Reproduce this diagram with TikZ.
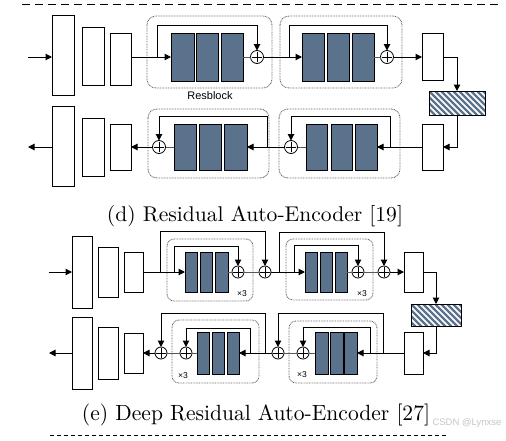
\documentclass[tikz,border=0pt]{standalone}
\usepackage{fontspec}
\newfontfamily\sansf{Liberation Sans}
\usetikzlibrary{arrows.meta}
\definecolor{slate}{RGB}{90,114,140}
\newcommand\mkbox[6]{\node[#6, minimum width={(#4)-(#2)}, minimum height={(#5)-(#3)}] (#1) at ({((#2)+(#4))/2},{((#3)+(#5))/2}) {};}
\newcommand\mkhatch[1]{%
  \begin{scope}
    \clip (#1.north west) rectangle (#1.south east);
    \foreach \i in {-30,-24,...,66} \draw[slate, line width=2.4pt] ([xshift=\i pt]#1.north west) -- ++(30,30);
  \end{scope}
  \draw[line width=1pt] (#1.north west) rectangle (#1.south east);}
\begin{document}
\begin{tikzpicture}[x=1pt,y=-1pt,
  bx/.style={draw, line width=1pt, fill=white, inner sep=0pt, outer sep=0pt},
  bl/.style={draw, line width=1pt, fill=slate, inner sep=0pt, outer sep=0pt},
  res/.style={draw=black!60, line width=0.9pt, dash pattern=on 0.8pt off 0.8pt, rounded corners=#1},
  res/.default=9pt,
  pl/.style={circle, draw, line width=0.8pt, fill=white, minimum size=#1, inner sep=0pt, outer sep=0pt,
    path picture={\draw[line width=0.8pt] ([xshift=1.4pt]path picture bounding box.west) -- ([xshift=-1.4pt]path picture bounding box.east)
      ([yshift=-1.4pt]path picture bounding box.north) -- ([yshift=1.4pt]path picture bounding box.south);}},
  pl/.default=13pt,
  ar/.style={line width=1pt, -{Triangle[length=6.5pt,width=6.5pt]}},
  gl/.style={line width=1pt, draw=gray!70!black},
  captxt/.style={anchor=base, inner sep=0pt},
  small/.style={font=\sansf\fontsize{8.5}{9}\selectfont}]
\fill[white] (0,0) rectangle (506,440);
\useasboundingbox (0,0) rectangle (506,440);

% dashed separators
\draw[line width=1pt, dash pattern=on 8pt off 5pt] (22,4) -- (498,4);
\draw[line width=0.9pt, dash pattern=on 4pt off 3pt] (50,435) -- (447,435);

%%%%%%%%%%%%%%%% (d) %%%%%%%%%%%%%%%%
\draw[res] (147,16) rectangle (272,88);
\draw[res] (280,16) rectangle (402,88);
\draw[res] (148,109) rectangle (269,178);
\draw[res] (279,109) rectangle (400,178);

\mkbox{A1}{52}{15}{74}{95}{bx}
\mkbox{A2}{82}{27}{104}{85}{bx}
\mkbox{A3}{110}{33}{131}{85}{bx}
\mkbox{B1}{171}{33}{194}{81}{bl}
\mkbox{B2}{196}{33}{218}{81}{bl}
\mkbox{B3}{221}{33}{243}{81}{bl}
\mkbox{B4}{302}{33}{324}{81}{bl}
\mkbox{B5}{327}{33}{349}{81}{bl}
\mkbox{B6}{352}{33}{374}{81}{bl}
\node[pl] (P1) at (257,57) {};
\node[pl] (P2) at (387,57) {};
\mkbox{E1}{422}{33}{443}{80}{bx}
\mkbox{H}{429}{91}{485}{115}{bx}
\mkhatch{H}
\mkbox{F1}{422}{124}{443}{170}{bx}
\mkbox{G1}{306}{124}{327}{170}{bl}
\mkbox{G2}{331}{124}{352}{170}{bl}
\mkbox{G3}{355}{124}{377}{170}{bl}
\node[pl] (Q2) at (291,147) {};
\mkbox{K1}{174}{124}{196}{170}{bl}
\mkbox{K2}{199}{124}{221}{170}{bl}
\mkbox{K3}{224}{124}{247}{170}{bl}
\node[pl] (Q1) at (159,147) {};
\mkbox{D3}{110}{124}{131}{170}{bx}
\mkbox{D2}{82}{118}{104}{176}{bx}
\mkbox{D1}{52}{106}{74}{186}{bx}
\node[font=\sansf\fontsize{11}{12}\selectfont, anchor=base] (rb) at (210,99) {Resblock};

\coordinate (in1) at (28,57);
\coordinate (j1) at (157,57);
\coordinate (j2) at (289,57);
\coordinate (j3) at (390,147);
\coordinate (j4) at (267,147);
\coordinate (out1) at (28,147);
\draw[ar] (in1) -- (in1 -| A1.west);
\draw[ar] (A3.east |- j1) -- (B1.west);
\draw[ar] (j1) -- ++(0,-32) -| (P1.north);
\draw[gl] (B3.east) -- (P1.west);
\draw[ar] (P1.east) -- (B4.west);
\draw[ar] (j2) -- ++(0,-32) -| (P2.north);
\draw[gl] (B6.east) -- (P2.west);
\draw[ar] (P2.east) -- (P2.east -| E1.west);
\draw[ar] (E1.east |- P2) -| (H.north);
\draw[ar] (H.south) |- (F1.east);
\draw[ar] (F1.west) -- (G3.east);
\draw[ar] (j3) -- ++(0,-31) -| (Q2.north);
\draw[gl] (G1.west) -- (Q2.east);
\draw[ar] (Q2.west) -- (K3.east);
\draw[ar] (j4) -- ++(0,-31) -| (Q1.north);
\draw[gl] (K1.west) -- (Q1.east);
\draw[ar] (Q1.west) -- (D3.east);
\draw[ar] (D1.west |- out1) -- (out1);

\node[captxt] (capd) at (255,221) {\resizebox{296pt}{16pt}{(d) Residual Auto-Encoder [19]}};

%%%%%%%%%%%%%%%% (e) %%%%%%%%%%%%%%%%
\draw[res=7pt] (167,239) rectangle (253,301);
\draw[res=7pt] (286,239) rectangle (373,300);
\draw[res=7pt] (289,321) rectangle (377,383);
\draw[res=7pt] (172,320) rectangle (259,383);

\mkbox{a1}{72}{236}{92}{308}{bx}
\mkbox{a2}{98}{247}{118}{297}{bx}
\mkbox{a3}{124}{252}{143}{292}{bx}
\mkbox{b1}{185}{252}{197}{292}{bl}
\mkbox{b2}{200}{252}{212}{292}{bl}
\mkbox{b3}{215}{252}{228}{292}{bl}
\node[pl=12pt] (I1) at (238,272) {};
\node[pl=12pt] (O1) at (265,272) {};
\mkbox{b4}{305}{252}{317}{292}{bl}
\mkbox{b5}{320}{252}{332}{292}{bl}
\mkbox{b6}{335}{252}{347}{292}{bl}
\node[pl=12pt] (I2) at (358,272) {};
\node[pl=12pt] (O2) at (384,272) {};
\mkbox{e1}{404}{252}{423}{292}{bx}
\mkbox{h}{411}{304}{461}{326}{bx}
\mkhatch{h}
\mkbox{f1}{404}{332}{423}{374}{bx}
\mkbox{g1}{315}{332}{328}{374}{bl}
\mkbox{g2}{330}{332}{343}{374}{bl}
\mkbox{g3}{344}{332}{357}{374}{bl}
\node[pl=12pt] (I3) at (303,353) {};
\node[pl=12pt] (O3) at (278,353) {};
\mkbox{k1}{197}{332}{209}{374}{bl}
\mkbox{k2}{212}{332}{224}{374}{bl}
\mkbox{k3}{227}{332}{239}{374}{bl}
\node[pl=12pt] (I4) at (186,353) {};
\node[pl=12pt] (O4) at (161,353) {};
\mkbox{c3}{124}{333}{143}{373}{bx}
\mkbox{c2}{98}{327}{118}{379}{bx}
\mkbox{c1}{72}{317}{92}{389}{bx}

\node[small] (x1) at (242,293.5) {×3};
\node[small] (x2) at (362,293.5) {×3};
\node[small] (x3) at (183,376) {×3};
\node[small] (x4) at (302,375) {×3};

\coordinate (in2) at (49,272);
\coordinate (s1) at (160,272);
\coordinate (s2) at (174,272);
\coordinate (s3) at (279,272);
\coordinate (s4) at (294,272);
\coordinate (s5) at (383,353);
\coordinate (s6) at (370,353);
\coordinate (s7) at (265,353);
\coordinate (s8) at (250,353);
\coordinate (out2) at (49,353);
\draw[ar] (in2) -- (in2 -| a1.west);
\draw[ar] (a3.east) -- (b1.west);
\draw[ar] (s1) -- ++(0,-41) -| (O1.north);
\draw[ar] (s2) -- ++(0,-26) -| (I1.north);
\draw[gl] (b3.east) -- (I1.west);
\draw[gl] (I1.east) -- (O1.west);
\draw[ar] (O1.east) -- (b4.west);
\draw[ar] (s3) -- ++(0,-40) -| (O2.north);
\draw[ar] (s4) -- ++(0,-27) -| (I2.north);
\draw[gl] (b6.east) -- (I2.west);
\draw[gl] (I2.east) -- (O2.west);
\draw[ar] (O2.east) -- (O2.east -| e1.west);
\draw[ar] (e1.east |- O2) -| (h.north);
\draw[ar] (h.south) |- (f1.east);
\draw[ar] (f1.west) -- (g3.east);
\draw[ar] (s5) -- ++(0,-40) -| (O3.north);
\draw[ar] (s6) -- ++(0,-26) -| (I3.north);
\draw[gl] (g1.west) -- (I3.east);
\draw[gl] (I3.west) -- (O3.east);
\draw[ar] (O3.west) -- (k3.east);
\draw[ar] (s7) -- ++(0,-40) -| (O4.north);
\draw[ar] (s8) -- ++(0,-25) -| (I4.north);
\draw[gl] (k1.west) -- (I4.east);
\draw[gl] (I4.west) -- (O4.east);
\draw[ar] (O4.west) -- (c3.east);
\draw[ar] (c1.west |- out2) -- (out2);

\node[captxt] (cape) at (256,420) {\resizebox{348pt}{16.5pt}{(e) Deep Residual Auto-Encoder [27]}};
\node[font=\sansf\fontsize{9.5}{10}\selectfont, text=gray!45, inner sep=0pt] (wm) at (467,423) {CSDN @Lynxse};
\end{tikzpicture}
\end{document}
